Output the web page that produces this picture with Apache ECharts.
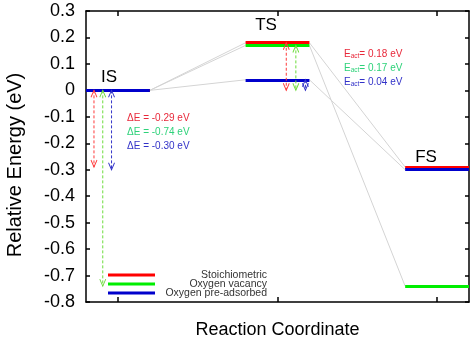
<!DOCTYPE html>
<html><head><meta charset="utf-8">
<script src="https://cdn.jsdelivr.net/npm/echarts@6/dist/echarts.min.js"></script>
<style>html,body{margin:0;padding:0;background:#fff}#c{width:474px;height:340px}</style>
</head><body><div id="c"></div>
<script>
// ---- data ----
const states = ['IS', 'TS', 'FS'];
const statePos = [1, 2, 3];
const seriesNames = ['Stoichiometric', 'Oxygen vacancy', 'Oxygen pre-adsorbed'];
const stoichiometric = [0, 0.18, -0.29];
const oxygenVacancy = [0, 0.17, -0.74];
const oxygenPreAdsorbed = [0, 0.04, -0.30];
const yTicks = [-0.8, -0.7, -0.6, -0.5, -0.4, -0.3, -0.2, -0.1, 0, 0.1, 0.2, 0.3];

// ---- styles ----
const lvlColors = ['#ff0000', '#00ee00', '#0000cc'];
const arrowColors = ['#ff3a3a', '#6ddc3c', '#3434c8'];
const textColors = ['#e8283a', '#2ed27a', '#3232c8'];
const FONT = 'Liberation Sans, Arial, sans-serif';
const halfW = 0.2;
const values = [stoichiometric, oxygenVacancy, oxygenPreAdsorbed];

const series = [];
// connectors
const conn = [];
values.forEach(v => {
  for (let i = 0; i < statePos.length - 1; i++) {
    conn.push({ coords: [[statePos[i] + halfW, v[i]], [statePos[i + 1] - halfW, v[i + 1]]] });
  }
});
series.push({ type: 'lines', coordinateSystem: 'cartesian2d', silent: true, z: 1,
  lineStyle: { color: '#d4d4d4', width: 1, opacity: 1 }, data: conn });
// levels (draw order: green, red, blue)
[1, 0, 2].forEach(k => {
  series.push({ type: 'lines', coordinateSystem: 'cartesian2d', silent: true, z: 3,
    name: seriesNames[k],
    lineStyle: { color: lvlColors[k], width: 3, opacity: 1 },
    data: statePos.map((p, i) => ({ coords: [[p - halfW, values[k][i]], [p + halfW, values[k][i]]] })) });
});
// arrows
const up = 'path://M0,8L5,0L10,8';
const down = 'path://M0,0L5,8L10,0';
function arrow(x, yTop, yBot, k) {
  const sz = [6, 7];
  series.push({ type: 'line', silent: true, z: 4, showSymbol: true, animation: false,
    lineStyle: { color: arrowColors[k], width: 1, type: [3, 2] },
    itemStyle: { color: 'transparent', borderColor: arrowColors[k], borderWidth: 1 },
    data: [
      { value: [x, yTop], symbol: up, symbolSize: sz, symbolOffset: [0, 3.5] },
      { value: [x, yBot], symbol: down, symbolSize: sz, symbolOffset: [0, -3.5] }
    ] });
}
const isArrowX = [0.85, 0.905, 0.96];
const tsArrowX = [2.055, 2.115, 2.175];
values.forEach((v, k) => {
  arrow(isArrowX[k], v[0], v[2], k);
  arrow(tsArrowX[k], v[1], v[0], k);
});

const dE = values.map(v => (v[2] - v[0]).toFixed(2));
const eAct = values.map(v => (v[1] - v[0]).toFixed(2));

const graphic = [];
// y axis title
graphic.push({ type: 'text', x: 15, y: 165, rotation: Math.PI / 2, z: 10,
  style: { text: 'Relative Energy (eV)', font: '20px ' + FONT, fill: '#000', align: 'center', verticalAlign: 'middle' } });
// state labels
const stLab = [[109, 77], [266, 25], [426, 157]];
states.forEach((s, i) => graphic.push({ type: 'text', x: stLab[i][0], y: stLab[i][1], z: 10,
  style: { text: s, font: '17px ' + FONT, fill: '#000', align: 'center', verticalAlign: 'middle' } }));
// ΔE labels
dE.forEach((d, k) => graphic.push({ type: 'text', x: 127, y: 118 + k * 14, z: 10,
  style: { text: 'ΔE = ' + d + ' eV', font: '10px ' + FONT, fill: textColors[k], verticalAlign: 'middle' } }));
// Eact labels
eAct.forEach((d, k) => graphic.push({ type: 'text', x: 344, y: 54 + k * 14, z: 10,
  style: { text: '{e|E}{s|act}{e|= ' + d + ' eV}', fill: textColors[k], verticalAlign: 'middle',
    rich: { e: { fontSize: 10, fontFamily: FONT, fill: textColors[k], lineHeight: 12 },
            s: { fontSize: 6.5, fontFamily: FONT, fill: textColors[k], lineHeight: 12, verticalAlign: 'bottom' } } } }));
// legend
seriesNames.forEach((n, k) => {
  graphic.push({ type: 'line', z: 10, shape: { x1: 108, y1: 275 + k * 9, x2: 155, y2: 275 + k * 9 },
    style: { stroke: lvlColors[k], lineWidth: 3 } });
  graphic.push({ type: 'text', z: 10, x: 267, y: 275 + k * 9,
    style: { text: n, font: '10.5px ' + FONT, fill: '#333', align: 'right', verticalAlign: 'middle' } });
});

const ax = { onZero: false, lineStyle: { color: '#000', width: 1.5 } };
const tk = { inside: true, length: 5, customValues: statePos, lineStyle: { color: '#000', width: 1.5 } };
const tky = { inside: true, length: 4, customValues: yTicks, lineStyle: { color: '#000', width: 1.5 } };
const option = {
  animation: false,
  grid: { left: 86, right: 5, top: 11, bottom: 38, outerBoundsMode: 'none', containLabel: false },
  xAxis: [
    { type: 'value', min: 0.8, max: 3.2, position: 'bottom', name: 'Reaction Coordinate', nameLocation: 'middle', nameGap: 19,
      nameTextStyle: { fontSize: 18, fontFamily: FONT, color: '#000' },
      axisLine: ax, axisTick: tk, axisLabel: { show: false }, splitLine: { show: false } },
    { type: 'value', min: 0.8, max: 3.2, position: 'top',
      axisLine: ax, axisTick: tk, axisLabel: { show: false }, splitLine: { show: false } }
  ],
  yAxis: [
    { type: 'value', min: -0.8, max: 0.3, position: 'left',
      axisLine: ax, axisTick: tky,
      axisLabel: { customValues: yTicks, margin: 11, fontSize: 18, fontFamily: FONT, color: '#000',
        formatter: v => Math.abs(v) < 1e-9 ? '0' : (+v).toFixed(1) },
      splitLine: { show: false } },
    { type: 'value', min: -0.8, max: 0.3, position: 'right',
      axisLine: ax, axisTick: tky, axisLabel: { show: false }, splitLine: { show: false } }
  ],
  series: series,
  graphic: graphic
};
const chart = echarts.init(document.getElementById('c'));
chart.setOption(option);
</script></body></html>
